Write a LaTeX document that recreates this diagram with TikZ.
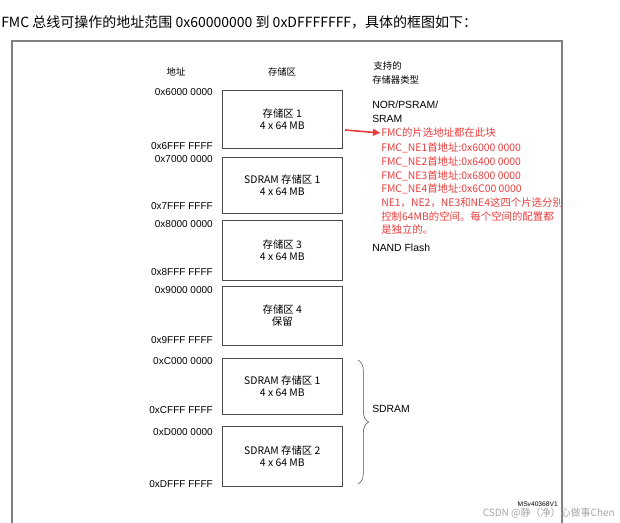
\documentclass[tikz,border=0pt]{standalone}
\usepackage{fontspec}
\setmainfont{Liberation Sans}
\newfontfamily\cjk{Noto Sans CJK SC}
\usetikzlibrary{decorations.pathreplacing,arrows.meta}
\definecolor{redt}{RGB}{235,60,60}
\begin{document}
\begin{tikzpicture}[x=0.75pt,y=-0.75pt,
  mem/.style={draw=black!70,line width=0.5pt,minimum width=90pt,minimum height=#1,anchor=north west,inner sep=0pt,align=center,font=\fontsize{7.8}{9.5}\selectfont\cjk},
  addr/.style={anchor=east,font=\fontsize{7.5}{9}\selectfont,inner sep=0pt},
  hdr/.style={font=\fontsize{7}{9}\selectfont\cjk,inner sep=0pt,align=center},
  rt/.style={anchor=west,text=redt,font=\fontsize{7.8}{8}\selectfont\cjk,inner sep=0pt}]
\useasboundingbox (0,0) rectangle (620,522);
\node[anchor=west,inner sep=0pt,font=\fontsize{10.5}{12}\selectfont\cjk] (title) at (1,22) {FMC 总线可操作的地址范围 0x60000000 到 0xDFFFFFFF，具体的框图如下：};
\draw[black!50,line width=0.8pt] (12,530) -- (12,41) -- (562,41) -- (562,530);
\node[hdr] (h1) at (176,72) {地址};
\node[hdr] (h2) at (282,72) {存储区};
\node[hdr,anchor=west] (h3) at (372,66) {\hspace*{1pt}支持的};
\node[hdr,anchor=west] (h4) at (372,80) {存储器类型};
\node[mem=43.5pt] (b1) at (222,90) {存储区 1\\4 x 64 MB};
\node[mem=42pt] (b2) at (222,157) {SDRAM 存储区 1\\4 x 64 MB};
\node[mem=45pt] (b3) at (222,220) {存储区 3\\4 x 64 MB};
\node[mem=44pt] (b4) at (222,286) {存储区 4\\保留};
\node[mem=42pt] (b5) at (222,358) {SDRAM 存储区 1\\4 x 64 MB};
\node[mem=45pt] (b6) at (222,426) {SDRAM 存储区 2\\4 x 64 MB};
\foreach \n/\y/\t in {a1/92/0x6000 0000,a2/146/0x6FFF FFFF,a3/159/0x7000 0000,a4/206/0x7FFF FFFF,a5/224/0x8000 0000,a6/272/0x8FFF FFFF,a7/290/0x9000 0000,a8/340/0x9FFF FFFF,a9/361/0xC000 0000,a10/410/0xCFFF FFFF,a11/432/0xD000 0000,a12/484/0xDFFF FFFF}
  \node[addr] (\n) at (213,\y) {\t};
\node[anchor=west,inner sep=0pt,align=left,font=\fontsize{7.8}{10.5}\selectfont] (nor) at (372,112) {NOR/PSRAM/\\SRAM};
\node[anchor=west,inner sep=0pt,font=\fontsize{7.8}{9}\selectfont] (nand) at (372,248) {NAND Flash};
\node[anchor=west,inner sep=0pt,font=\fontsize{7.8}{9}\selectfont] (sdr) at (372,409) {SDRAM};
\coordinate (bt) at (358,360); \coordinate (bb) at (358,484);
\draw[decorate,decoration={brace,amplitude=8pt},black!70] (bt) -- (bb);
\foreach \n/\y/\t in {r1/133/FMC的片选地址都在此块,r2/148/FMC\_NE1首地址:0x6000 0000,r3/162/FMC\_NE2首地址:0x6400 0000,r4/176/FMC\_NE3首地址:0x6800 0000,r5/189/FMC\_NE4首地址:0x6C00 0000,r6/203/NE1，NE2，NE3和NE4这四个片选分别,r7/217/控制64MB的空间。每个空间的配置都,r8/230/是独立的。}
  \node[rt] (\n) at (381,\y) {\t};
\coordinate (as) at (345,130);
\draw[redt,line width=1.2pt,-{Latex[length=6pt,width=6pt]}] (as) -- (r1.west);
\node[anchor=east,inner sep=0pt,font=\fontsize{5}{6}\selectfont] (ms) at (558,504) {MSv40368V1};
\node[anchor=east,inner sep=0pt,text=black!35,font=\fontsize{7.5}{9}\selectfont\cjk] (wm) at (615,513) {CSDN @静（净）心做事Chen};
\end{tikzpicture}
\end{document}
